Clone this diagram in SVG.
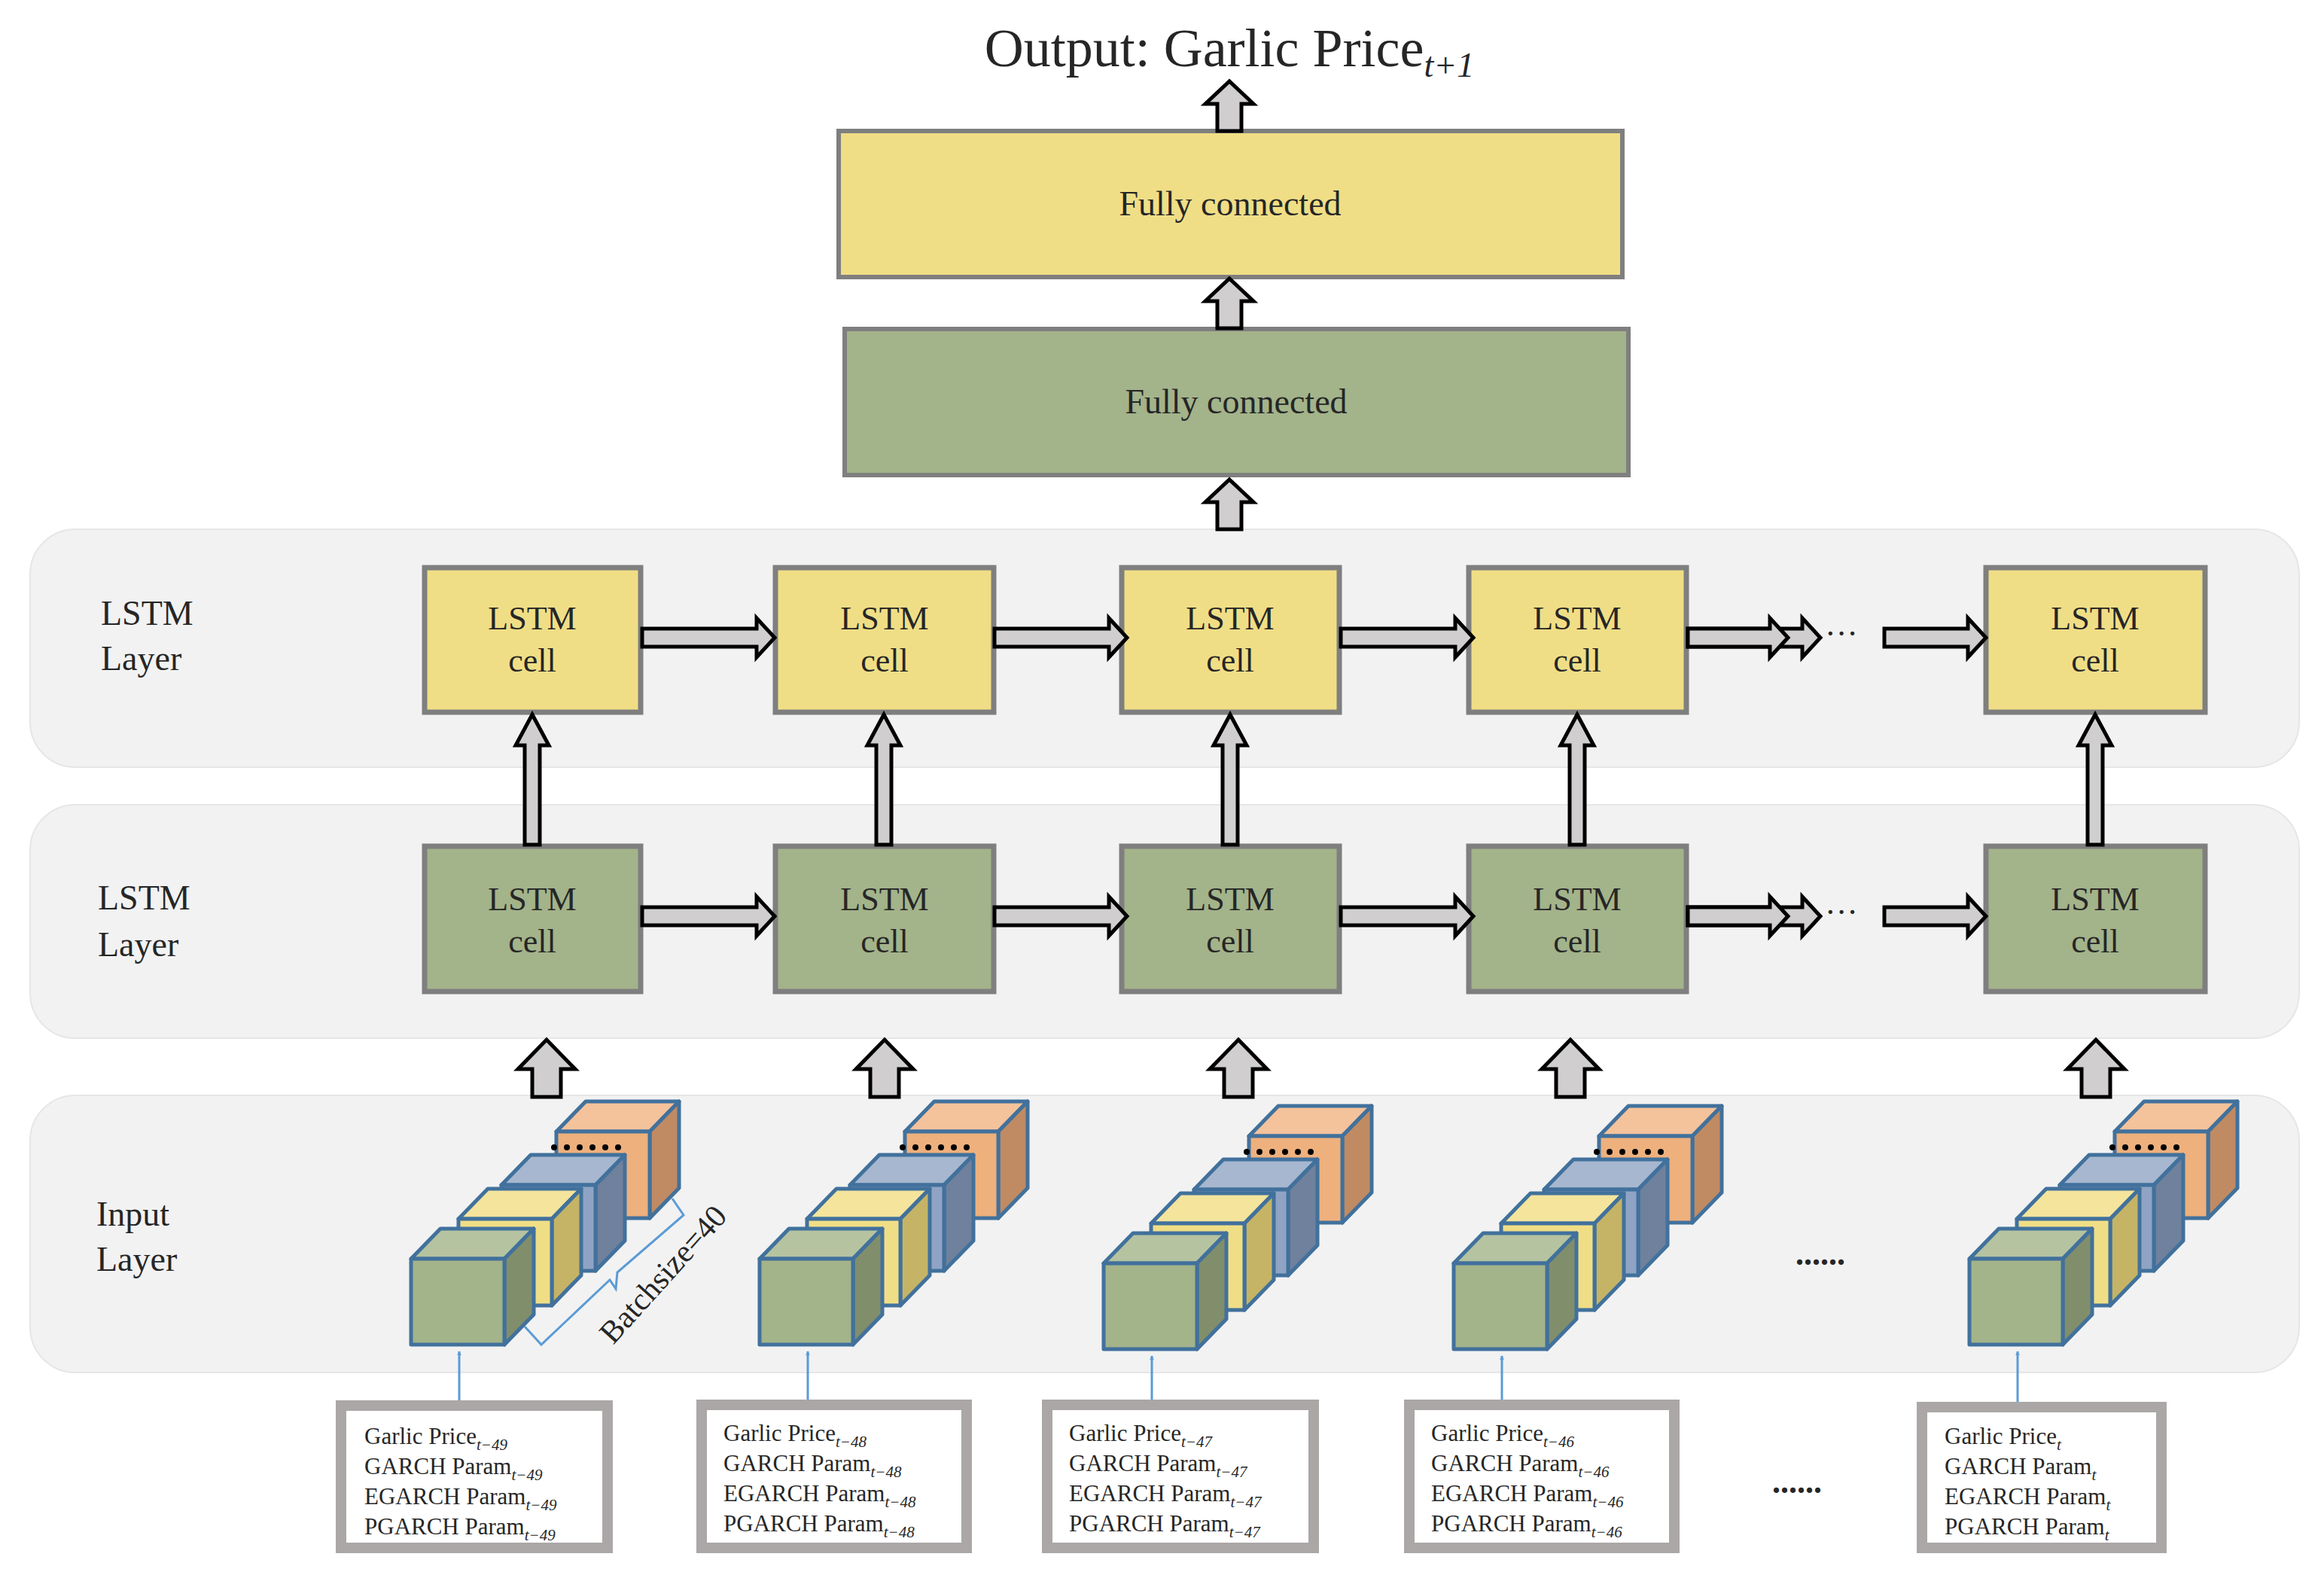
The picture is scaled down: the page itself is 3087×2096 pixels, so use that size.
<svg xmlns="http://www.w3.org/2000/svg" width="3087" height="2096" viewBox="0 0 3087 2096">
<style>
text{font-family:"Liberation Serif","Times New Roman",serif;fill:#262626}
.panel{fill:#f2f2f2;stroke:#e6e6e6;stroke-width:2}
.cy{fill:#f0de86;stroke:#7f7f7f;stroke-width:7}
.cg{fill:#a3b38a;stroke:#7f7f7f;stroke-width:7}
.ba{fill:#d0cece;stroke:#000;stroke-width:5}
.lbl{font-size:46px}
.cell{font-size:44px;text-anchor:middle}
.box{fill:#fff;stroke:#aba7a7;stroke-width:14}
.bt{font-size:31px}
.sub{font-size:21px;font-style:italic}
.blue{stroke:#5b9bd5;stroke-width:3;fill:none}
.cube{stroke:#41719c;stroke-width:5;stroke-linejoin:round}
</style>
<defs>
<marker id="bh" viewBox="0 0 10 10" refX="9" refY="5" markerWidth="6" markerHeight="8" orient="auto" markerUnits="userSpaceOnUse"><path d="M0,0 L10,5 L0,10 Z" fill="#5b9bd5"/></marker>
<g id="stack">
<g class="cube"><path d="M739,1503 h124 l39,-40 h-124 z" fill="#f4c29b"/><path d="M863,1503 l39,-40 v115 l-39,40 z" fill="#c08b63"/><rect x="739" y="1503" width="124" height="115" fill="#eeb07d"/></g>
<g fill="#000"><circle cx="736" cy="1524" r="4"/><circle cx="753" cy="1524" r="4"/><circle cx="770" cy="1524" r="4"/><circle cx="787" cy="1524" r="4"/><circle cx="804" cy="1524" r="4"/><circle cx="821" cy="1524" r="4"/></g>
<g class="cube"><path d="M666,1574 h125 l39,-40 h-125 z" fill="#a6b7cf"/><path d="M791,1574 l39,-40 v114 l-39,40 z" fill="#6f819c"/><rect x="666" y="1574" width="125" height="114" fill="#8fa4c4"/></g>
<g class="cube"><path d="M609,1619 h124 l39,-40 h-124 z" fill="#f4e49c"/><path d="M733,1619 l39,-40 v115 l-39,40 z" fill="#c5b465"/><rect x="609" y="1619" width="124" height="115" fill="#f0de86"/></g>
<g class="cube"><path d="M546,1672 h124 l39,-40 h-124 z" fill="#b5c3a1"/><path d="M670,1672 l39,-40 v114 l-39,40 z" fill="#818e6c"/><rect x="546" y="1672" width="124" height="114" fill="#a3b38a"/></g>
<line class="blue" x1="610" y1="1862" x2="610" y2="1795" marker-end="url(#bh)"/>
</g>
</defs>
<rect width="3087" height="2096" fill="#fff"/>
<g id="panels">
<rect class="panel" x="40" y="703" width="3014" height="316" rx="60"/>
<rect class="panel" x="40" y="1069" width="3014" height="310" rx="60"/>
<rect class="panel" x="40" y="1455" width="3014" height="368" rx="60"/>
<text class="lbl" x="134" y="830">LSTM</text><text class="lbl" x="134" y="890">Layer</text>
<text class="lbl" x="130" y="1208">LSTM</text><text class="lbl" x="130" y="1270">Layer</text>
<text class="lbl" x="128" y="1628">Input</text><text class="lbl" x="128" y="1688">Layer</text>
</g>
<text id="title" x="1633" y="88" font-size="72" text-anchor="middle">Output: Garlic Price<tspan font-size="46" font-style="italic" dy="14">t+1</tspan></text>
<g id="fc2"><rect x="1114" y="174" width="1041" height="194" fill="#f0de86" stroke="#7f7f7f" stroke-width="6"/><text x="1634" y="286" font-size="46" text-anchor="middle">Fully connected</text></g>
<g id="fc1"><rect x="1122" y="437" width="1041" height="194" fill="#a3b38a" stroke="#7f7f7f" stroke-width="6"/><text x="1642" y="549" font-size="46" text-anchor="middle">Fully connected</text></g>
<g id="cells">
<g id="y1"><rect class="cy" x="564" y="754" width="287" height="192"/><text class="cell" x="707" y="836">LSTM</text><text class="cell" x="707" y="892">cell</text></g>
<g id="y2"><rect class="cy" x="1030" y="754" width="290" height="192"/><text class="cell" x="1175" y="836">LSTM</text><text class="cell" x="1175" y="892">cell</text></g>
<g id="y3"><rect class="cy" x="1490" y="754" width="289" height="192"/><text class="cell" x="1634" y="836">LSTM</text><text class="cell" x="1634" y="892">cell</text></g>
<g id="y4"><rect class="cy" x="1951" y="754" width="289" height="192"/><text class="cell" x="2095" y="836">LSTM</text><text class="cell" x="2095" y="892">cell</text></g>
<g id="y5"><rect class="cy" x="2638" y="754" width="291" height="192"/><text class="cell" x="2783" y="836">LSTM</text><text class="cell" x="2783" y="892">cell</text></g>
<g id="g1"><rect class="cg" x="564" y="1124" width="287" height="193"/><text class="cell" x="707" y="1209">LSTM</text><text class="cell" x="707" y="1265">cell</text></g>
<g id="g2"><rect class="cg" x="1030" y="1124" width="290" height="193"/><text class="cell" x="1175" y="1209">LSTM</text><text class="cell" x="1175" y="1265">cell</text></g>
<g id="g3"><rect class="cg" x="1490" y="1124" width="289" height="193"/><text class="cell" x="1634" y="1209">LSTM</text><text class="cell" x="1634" y="1265">cell</text></g>
<g id="g4"><rect class="cg" x="1951" y="1124" width="289" height="193"/><text class="cell" x="2095" y="1209">LSTM</text><text class="cell" x="2095" y="1265">cell</text></g>
<g id="g5"><rect class="cg" x="2638" y="1124" width="291" height="193"/><text class="cell" x="2783" y="1209">LSTM</text><text class="cell" x="2783" y="1265">cell</text></g>
</g>
<g id="connectors">
<path class="ba" d="M1617,174 V138 H1601 L1633,108 L1665,138 H1649 V174 Z"/>
<path class="ba" d="M1617,436 V400 H1601 L1633,370 L1665,400 H1649 V436 Z"/>
<path class="ba" d="M1617,703 V667 H1601 L1633,637 L1665,667 H1649 V703 Z"/>
<g id="h">
<path class="ba" d="M853,835 H1005 V821 L1029,847 L1005,873 V859 H853 Z"/>
</g>
<use href="#h" x="468"/><use href="#h" x="928"/><use href="#h" x="1389"/>
<path class="ba" d="M2242,835 H2351 V821 L2375,847 L2351,873 V859 H2242 Z"/>
<path class="ba" d="M2503,835 H2614 V821 L2638,847 L2614,873 V859 H2503 Z"/>
<use href="#h" y="370"/><use href="#h" x="468" y="370"/><use href="#h" x="928" y="370"/><use href="#h" x="1389" y="370"/>
<path class="ba" d="M2242,1205 H2351 V1191 L2375,1217 L2351,1243 V1229 H2242 Z"/>
<path class="ba" d="M2503,1205 H2614 V1191 L2638,1217 L2614,1243 V1229 H2503 Z"/>
<g id="v"><path class="ba" d="M697,1122 V990 H685 L707,949 L729,990 H717 V1122 Z"/></g>
<use href="#v" x="467"/><use href="#v" x="927"/><use href="#v" x="1388"/><use href="#v" x="2076"/>
<g id="bu"><path class="ba" d="M707,1457 V1420 H688 L726,1381 L764,1420 H745 V1457 Z"/></g>
<use href="#bu" x="449"/><use href="#bu" x="919"/><use href="#bu" x="1360"/><use href="#bu" x="2058"/>
<text x="2446" y="856" font-size="44" text-anchor="middle">···</text>
<text x="2446" y="1226" font-size="44" text-anchor="middle">···</text>
</g>
<g id="stacks">
<use href="#stack"/>
<use href="#stack" x="463"/>
<use href="#stack" x="920" y="6"/>
<use href="#stack" x="1385" y="6"/>
<use href="#stack" x="2070"/>
<polyline class="blue" points="697,1762 719,1786 810,1700 818,1712 820,1690 908,1614 893,1592"/>
<text x="891" y="1702" font-size="42" text-anchor="middle" transform="rotate(-48 891 1702)">Batchsize=40</text>
<text x="2418" y="1680" font-size="44" text-anchor="middle" font-weight="bold">......</text>
<text x="2387" y="1983" font-size="44" text-anchor="middle" font-weight="bold">......</text>
</g>
<g id="b1"><rect class="box" x="453" y="1867" width="354" height="189"/><text class="bt" x="484" y="1918">Garlic Price<tspan class="sub" dy="8">t−49</tspan></text><text class="bt" x="484" y="1958">GARCH Param<tspan class="sub" dy="8">t−49</tspan></text><text class="bt" x="484" y="1998">EGARCH Param<tspan class="sub" dy="8">t−49</tspan></text><text class="bt" x="484" y="2038">PGARCH Param<tspan class="sub" dy="8">t−49</tspan></text></g>
<g id="b2"><rect class="box" x="932" y="1866" width="352" height="190"/><text class="bt" x="961" y="1914">Garlic Price<tspan class="sub" dy="8">t−48</tspan></text><text class="bt" x="961" y="1954">GARCH Param<tspan class="sub" dy="8">t−48</tspan></text><text class="bt" x="961" y="1994">EGARCH Param<tspan class="sub" dy="8">t−48</tspan></text><text class="bt" x="961" y="2034">PGARCH Param<tspan class="sub" dy="8">t−48</tspan></text></g>
<g id="b3"><rect class="box" x="1391" y="1866" width="354" height="190"/><text class="bt" x="1420" y="1914">Garlic Price<tspan class="sub" dy="8">t−47</tspan></text><text class="bt" x="1420" y="1954">GARCH Param<tspan class="sub" dy="8">t−47</tspan></text><text class="bt" x="1420" y="1994">EGARCH Param<tspan class="sub" dy="8">t−47</tspan></text><text class="bt" x="1420" y="2034">PGARCH Param<tspan class="sub" dy="8">t−47</tspan></text></g>
<g id="b4"><rect class="box" x="1872" y="1866" width="352" height="190"/><text class="bt" x="1901" y="1914">Garlic Price<tspan class="sub" dy="8">t−46</tspan></text><text class="bt" x="1901" y="1954">GARCH Param<tspan class="sub" dy="8">t−46</tspan></text><text class="bt" x="1901" y="1994">EGARCH Param<tspan class="sub" dy="8">t−46</tspan></text><text class="bt" x="1901" y="2034">PGARCH Param<tspan class="sub" dy="8">t−46</tspan></text></g>
<g id="b5"><rect class="box" x="2553" y="1869" width="318" height="187"/><text class="bt" x="2583" y="1918">Garlic Price<tspan class="sub" dy="8">t</tspan></text><text class="bt" x="2583" y="1958">GARCH Param<tspan class="sub" dy="8">t</tspan></text><text class="bt" x="2583" y="1998">EGARCH Param<tspan class="sub" dy="8">t</tspan></text><text class="bt" x="2583" y="2038">PGARCH Param<tspan class="sub" dy="8">t</tspan></text></g>
</svg>
